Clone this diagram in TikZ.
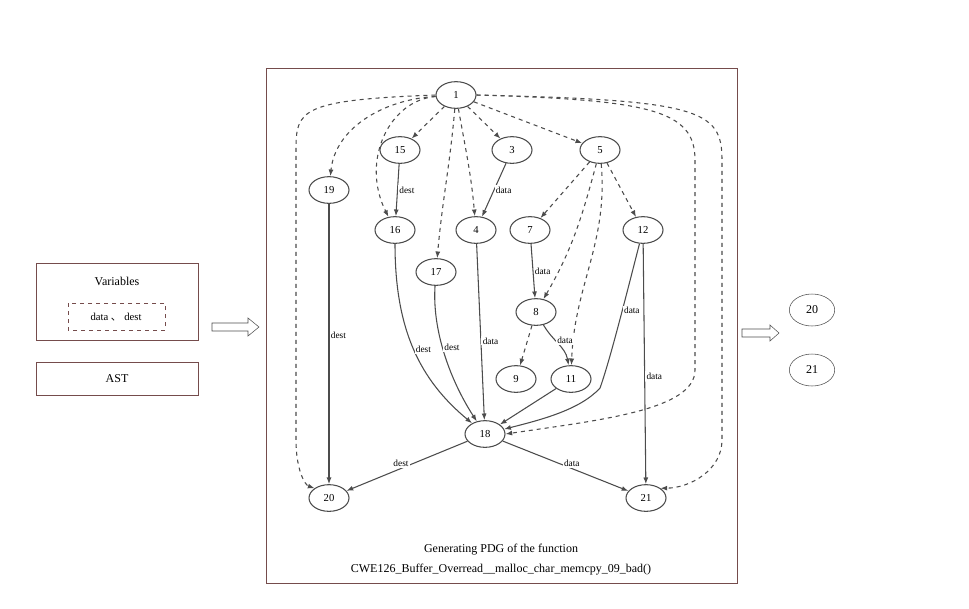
\documentclass[tikz,border=0pt]{standalone}
\usepackage{fontspec}
\setmainfont{Liberation Serif}
\newfontfamily\cjk{Noto Sans CJK SC}
\usetikzlibrary{arrows.meta,shapes.geometric}
\begin{document}
\begin{tikzpicture}[x=0.75pt,y=-0.75pt,
 n/.style={ellipse,draw=black!70,thick,minimum width=30pt,minimum height=20pt,inner sep=0pt,font=\footnotesize},
 rn/.style={ellipse,draw=black!70,minimum width=34pt,minimum height=24pt,inner sep=0pt,font=\small},
 d/.style={draw=black!70,thick,dashed,-{Latex[length=5pt]}},
 s/.style={draw=black!70,thick,-{Latex[length=5pt]}},
 lb/.style={font=\scriptsize,fill=white,inner sep=1pt},
 box/.style={draw=black!60!red!40!gray,semithick}]
\useasboundingbox (0,0) rectangle (969,608);
\draw[box] (266,68) rectangle (737,583);
\node[n] (n1) at (456,95) {1};
\node[n] (n15) at (400,150) {15};
\node[n] (n3) at (512,150) {3};
\node[n] (n5) at (600,150) {5};
\node[n] (n19) at (329,190) {19};
\node[n] (n16) at (395,230) {16};
\node[n] (n4) at (476,230) {4};
\node[n] (n7) at (530,230) {7};
\node[n] (n12) at (643,230) {12};
\node[n] (n17) at (436,272) {17};
\node[n] (n8) at (536,312) {8};
\node[n] (n9) at (516,379) {9};
\node[n] (n11) at (571,379) {11};
\node[n] (n18) at (485,434) {18};
\node[n] (n20) at (329,498) {20};
\node[n] (n21) at (646,498) {21};
% dashed from 1
\draw[d] (n1) .. controls (380,100) and (335,130) .. (n19);
\draw[d] (n1) .. controls (390,100) and (360,160) .. (n16);
\draw[d] (n1) -- (n15);
\draw[d] (n1) to[out=-95,in=85] (n17);
\draw[d] (n1) to[out=-80,in=95] (n4);
\draw[d] (n1) -- (n3);
\draw[d] (n1) -- (n5);
\draw[d] (n1.west) .. controls (300,100) and (296,110) .. (296,150) -- (296,440) .. controls (296,470) and (305,485) .. (n20.north west);
\draw[d] (n1.east) .. controls (650,100) and (695,110) .. (695,160) -- (695,370) .. controls (695,410) and (600,420) .. (n18.east);
\draw[d] (n1.east) .. controls (700,100) and (722,110) .. (722,160) -- (722,440) .. controls (722,470) and (690,488) .. (n21.north east);
% dashed from 5
\draw[d] (n5) -- (n7);
\draw[d] (n5) -- (n12);
\draw[d] (n5) to[out=-105,in=60] (n8);
\draw[d] (n5) to[out=-85,in=88] (n11);
\draw[d] (n8) -- (n9);
% solid
\draw[s] (n15) -- node[lb,right]{dest} (n16);
\draw[s] (n3) -- node[lb,right]{data} (n4);
\draw[s] (n7) -- node[lb,right]{data} (n8);
\draw[s] (n19) -- node[lb,pos=0.47,right]{dest} (n20);
\draw[s] (n16) .. controls (395,330) and (420,380) .. node[lb,pos=0.5,right]{dest} (n18);
\draw[s] (n17) .. controls (432,330) and (450,380) .. node[lb,pos=0.45,right]{dest} (n18);
\draw[s] (n4) -- node[lb,pos=0.55,right]{data} (n18);
\draw[s] (n8) to[out=-60,in=100] node[lb,pos=0.4,right]{data} (n11);
\draw[s] (n11) -- (n18);
\draw[s] (n12) .. controls (625,300) and (610,360) .. node[lb,pos=0.4,right]{data} (600,388) .. controls (580,410) and (540,420) .. (n18);
\draw[s] (n12) -- node[lb,pos=0.55,right]{data} (n21);
\draw[s] (n18) -- node[lb,pos=0.55,above]{dest} (n20);
\draw[s] (n18) -- node[lb,pos=0.55,above]{data} (n21);
\node[font=\small] (cap1) at (501,550) {Generating PDG of the function};
\node[font=\small] (cap2) at (501,570) {CWE126\_Buffer\_Overread\_\_malloc\_char\_memcpy\_09\_bad()};
% left
\draw[box] (36,263) rectangle (198,340);
\node[font=\small] (var) at (117,281) {Variables};
\draw[box,dashed] (68,303) rectangle (165,330);
\node[font=\footnotesize] (dd) at (116,317) {data {\cjk 、} dest};
\draw[box] (36,362) rectangle (198,395);
\node[font=\small] (ast) at (117,379) {AST};
% hollow arrows
\draw[black!70] (212,323) -- (248,323) -- (248,318) -- (259,327) -- (248,336) -- (248,331) -- (212,331) -- cycle;
\draw[black!70] (742,329) -- (770,329) -- (770,325) -- (779,333) -- (770,341) -- (770,337) -- (742,337) -- cycle;
\node[rn] (r20) at (812,310) {20};
\node[rn] (r21) at (812,370) {21};
\end{tikzpicture}
\end{document}
